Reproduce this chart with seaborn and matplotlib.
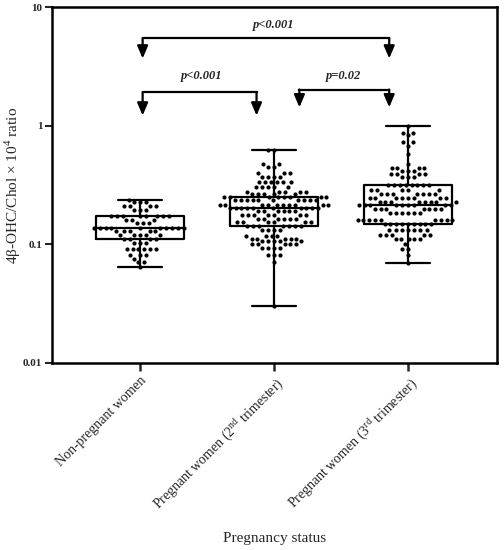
import numpy as np
import pandas as pd
import matplotlib
matplotlib.use("Agg")
import matplotlib.pyplot as plt
from matplotlib.ticker import NullLocator
import seaborn as sns

groups = ["Non-pregnant women",
          "Pregnant women (2$^{\\rm nd}$ trimester)",
          "Pregnant women (3$^{\\rm rd}$ trimester)"]

non_pregnant = [0.064, 0.071, 0.071, 0.076, 0.082, 0.082, 0.082, 0.091, 0.091, 0.091,
                0.091, 0.091, 0.091, 0.102, 0.102, 0.102, 0.110, 0.110, 0.110, 0.110,
                0.119, 0.119, 0.119, 0.119, 0.119, 0.129, 0.129, 0.129, 0.129, 0.129,
                0.137, 0.137, 0.137, 0.137, 0.137, 0.137, 0.137, 0.137, 0.137, 0.137,
                0.150, 0.150, 0.150, 0.160, 0.160, 0.160, 0.174, 0.174, 0.174, 0.174,
                0.174, 0.174, 0.174, 0.174, 0.195, 0.195, 0.195, 0.210, 0.210, 0.210,
                0.210, 0.226, 0.226, 0.226, 0.238]

second_trim = [0.030, 0.071, 0.081, 0.081, 0.081, 0.094, 0.094, 0.094, 0.094, 0.100,
               0.100, 0.100, 0.100, 0.100, 0.106, 0.106, 0.106, 0.106, 0.106, 0.112,
               0.112, 0.112, 0.112, 0.112, 0.117, 0.117, 0.117, 0.117, 0.131, 0.131,
               0.131, 0.131, 0.143, 0.143, 0.143, 0.143, 0.143, 0.143, 0.143, 0.153,
               0.153, 0.153, 0.153, 0.153, 0.153, 0.165, 0.165, 0.165, 0.165, 0.165,
               0.165, 0.178, 0.178, 0.178, 0.178, 0.178, 0.178, 0.178, 0.193, 0.193,
               0.193, 0.193, 0.193, 0.193, 0.202, 0.202, 0.202, 0.202, 0.202, 0.202,
               0.202, 0.202, 0.202, 0.202, 0.216, 0.216, 0.216, 0.216, 0.216, 0.216,
               0.216, 0.216, 0.216, 0.216, 0.235, 0.235, 0.235, 0.235, 0.235, 0.235,
               0.235, 0.235, 0.235, 0.235, 0.249, 0.249, 0.249, 0.249, 0.249, 0.249,
               0.249, 0.249, 0.265, 0.265, 0.265, 0.265, 0.265, 0.279, 0.279, 0.279,
               0.279, 0.279, 0.303, 0.303, 0.303, 0.303, 0.303, 0.333, 0.333, 0.333,
               0.333, 0.333, 0.333, 0.370, 0.370, 0.370, 0.370, 0.396, 0.396, 0.396,
               0.450, 0.450, 0.480, 0.480, 0.620, 0.630]

third_trim = [0.0695, 0.081, 0.092, 0.092, 0.101, 0.110, 0.110, 0.110, 0.110, 0.110,
              0.119, 0.119, 0.119, 0.119, 0.119, 0.131, 0.131, 0.131, 0.131, 0.131,
              0.131, 0.131, 0.149, 0.149, 0.149, 0.149, 0.149, 0.149, 0.149, 0.149,
              0.149, 0.162, 0.162, 0.162, 0.162, 0.162, 0.162, 0.162, 0.162, 0.162,
              0.185, 0.185, 0.185, 0.185, 0.185, 0.185, 0.200, 0.200, 0.200, 0.200,
              0.200, 0.200, 0.200, 0.215, 0.215, 0.215, 0.215, 0.215, 0.215, 0.215,
              0.215, 0.215, 0.227, 0.227, 0.227, 0.227, 0.227, 0.227, 0.227, 0.227,
              0.245, 0.245, 0.245, 0.245, 0.245, 0.245, 0.245, 0.245, 0.268, 0.268,
              0.268, 0.268, 0.268, 0.268, 0.268, 0.285, 0.285, 0.285, 0.285, 0.285,
              0.315, 0.315, 0.315, 0.315, 0.315, 0.315, 0.315, 0.315, 0.370, 0.370,
              0.370, 0.390, 0.390, 0.390, 0.390, 0.413, 0.413, 0.413, 0.440, 0.440,
              0.440, 0.440, 0.480, 0.580, 0.680, 0.727, 0.727, 0.830, 0.867, 0.867,
              1.000]

y_ticks = [0.01, 0.1, 1, 10]
y_tick_labels = ["0.01", "0.1", "1", "10"]

df = pd.DataFrame({
    "group": [groups[0]] * len(non_pregnant) + [groups[1]] * len(second_trim)
             + [groups[2]] * len(third_trim),
    "ratio": non_pregnant + second_trim + third_trim,
})

sns.set_style("ticks")
plt.rcParams["font.family"] = ["Liberation Serif", "DejaVu Serif"]
plt.rcParams["mathtext.fontset"] = "custom"
plt.rcParams["mathtext.rm"] = "Liberation Serif"
plt.rcParams["mathtext.bf"] = "Liberation Serif:bold"

fig = plt.figure(figsize=(5.04, 5.5), dpi=100)
ax = fig.add_axes([0.103, 0.34, 0.883, 0.647])

sns.boxplot(data=df, x="group", y="ratio", order=groups, whis=(0, 100), width=0.66,
            fill=False, color="black", linecolor="black", linewidth=1.6,
            showfliers=False, log_scale=True, ax=ax)
# lay the swarm out with a bigger marker so the dots keep some space between them
n_before = len(ax.collections)
sns.swarmplot(data=df, x="group", y="ratio", order=groups, color="black", size=4.0,
              log_scale=True, ax=ax)

ax.set_ylim(0.01, 10)
ax.set_xlim(-0.657, 2.664)
ax.set_yticks(y_ticks, labels=y_tick_labels)
ax.yaxis.set_minor_locator(NullLocator())
for lab in ax.get_yticklabels():
    lab.set_fontweight("bold")
    lab.set_fontsize(8)
ax.tick_params(axis="y", length=5, width=1.5, pad=2)
ax.tick_params(axis="x", length=6, width=1.8, pad=2)
ax.set_xticks(range(3), labels=groups)
for lab in ax.get_xticklabels():
    lab.set_rotation(45)
    lab.set_ha("right")
    lab.set_rotation_mode("anchor")
    lab.set_fontsize(10)

for side in ["left", "bottom", "top", "right"]:
    ax.spines[side].set_linewidth(1.8)
    ax.spines[side].set_color("black")

fig.canvas.draw()
for coll in ax.collections[n_before:]:
    if "draw" in coll.__dict__:
        del coll.draw
    coll.set_sizes([3.0 ** 2])

ax.set_ylabel("4β-OHC/Chol × 10$^{4}$ ratio", fontsize=11)
ax.yaxis.set_label_coords(-0.066, 0.5)
ax.set_xlabel("Pregnancy status", fontsize=11)
ax.xaxis.set_label_coords(0.5, -0.475)


def bracket(x1, x2, y_bar, y_tip, text, tx, ty):
    ax.plot([x1, x2], [y_bar, y_bar], color="black", lw=1.6, solid_capstyle="projecting")
    for xx in (x1, x2):
        ax.annotate("", xy=(xx, y_tip), xytext=(xx, y_bar),
                    arrowprops=dict(arrowstyle="-|>,head_length=0.75,head_width=0.32",
                                    mutation_scale=10, color="black", lw=1.6,
                                    shrinkA=0, shrinkB=0))
    ax.text(tx, ty, text, ha="center", va="center", fontsize=9,
            fontweight="bold", fontstyle="italic")


bracket(0.02, 1.86, 5.47, 3.69, "p<0.001", 1.0, 7.1)
bracket(0.02, 0.87, 1.92, 1.22, "p<0.001", 0.46, 2.65)
bracket(1.19, 1.86, 2.02, 1.43, "p=0.02", 1.52, 2.65)

fig.savefig("out.png", dpi=100)
